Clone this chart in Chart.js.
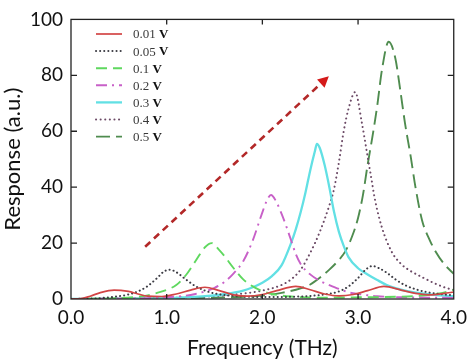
<!DOCTYPE html>
<html>
<head>
<meta charset="utf-8">
<script src="https://cdn.jsdelivr.net/npm/chart.js@4/dist/chart.umd.min.js"></script>
<style>
html,body{margin:0;padding:0;background:#fff;}
#wrap{width:474px;height:361px;position:relative;}
</style>
</head>
<body>
<div id="wrap"><canvas id="c"></canvas></div>
<script>
// ---- data (frequency in THz, response in a.u.) ----
const seriesLabels = ["0.01 V","0.05 V","0.1 V","0.2 V","0.3 V","0.4 V","0.5 V"];
const xTickLabels = ["0.0","1.0","2.0","3.0","4.0"];
const yTickLabels = ["0","20","40","60","80","100"];

const f001 = [0,0.1,0.2,0.3,0.45,0.6,0.7,0.8,0.95,1.1,1.25,1.4,1.55,1.7,1.85,2.0,2.15,2.35,2.5,2.65,2.8,2.95,3.1,3.27,3.45,3.6,3.75,3.9,4.0];
const r001 = [0,0.1,1.0,2.2,3.2,2.7,1.8,1.0,0.9,1.8,3.2,4.2,3.0,1.5,1.0,1.6,3.0,4.5,3.3,1.8,1.1,1.6,3.0,4.5,3.2,2.0,1.5,2.0,2.5];

const f005 = [0,0.3,0.5,0.6,0.7,0.8,0.9,0.97,1.03,1.1,1.2,1.3,1.4,1.5,1.7,2.0,2.3,2.5,2.7,2.8,2.9,3.0,3.08,3.15,3.22,3.3,3.4,3.5,3.6,3.7,3.8,4.0];
const r005 = [0,0.3,1.0,1.6,2.7,4.6,7.5,9.8,10.5,9.6,7.0,4.6,3.0,2.0,1.1,0.7,0.8,1.1,1.9,2.7,4.5,7.5,10.5,11.8,11.0,9.4,6.8,4.8,3.5,2.6,2.0,1.3];

const f01 = [0,0.5,0.7,0.8,0.9,1.0,1.1,1.2,1.3,1.4,1.47,1.55,1.6,1.7,1.8,1.9,2.0,2.1,2.3,2.6,3.0,3.4,3.7,3.85,4.0];
const r01 = [0,0.3,0.8,1.3,2.2,3.3,5.0,8.5,13.5,18.5,20.0,17.5,15.5,11.0,7.0,4.5,2.8,1.8,0.9,0.5,0.6,0.8,1.3,2.0,3.2];

const f02 = [0,0.8,1.0,1.2,1.3,1.4,1.5,1.6,1.7,1.8,1.9,2.0,2.05,2.09,2.15,2.2,2.25,2.3,2.35,2.4,2.5,2.6,2.7,2.8,2.9,3.0,3.2,3.5,4.0];
const r02 = [0,0.3,0.6,1.2,1.8,2.7,4.0,6.0,9.2,13.5,21.0,31.0,35.5,37.2,34.5,30.5,26.0,21.0,16.0,12.5,8.8,6.5,5.0,3.6,2.4,1.8,1.0,0.6,0.4];

const f03 = [0,1.0,1.2,1.4,1.6,1.8,1.9,2.0,2.1,2.2,2.3,2.35,2.4,2.45,2.5,2.55,2.57,2.6,2.65,2.7,2.75,2.8,2.85,2.9,3.0,3.1,3.2,3.3,3.4,3.5,3.6,3.7,3.8,3.9,4.0];
const r03 = [0,0.3,0.6,1.0,1.7,3.0,4.2,5.8,8.2,12.0,20.0,25.0,31.0,38.0,46.0,53.0,55.5,54.0,48.0,40.0,31.0,24.0,19.0,15.0,11.0,8.8,6.8,5.0,3.8,2.9,2.3,1.9,1.5,1.2,1.0];

const f04 = [0,1.0,1.5,1.7,1.9,2.0,2.1,2.2,2.3,2.4,2.5,2.6,2.7,2.75,2.8,2.85,2.9,2.97,3.04,3.09,3.13,3.18,3.25,3.35,3.45,3.55,3.67,3.8,3.9,4.0];
const r04 = [0,0.4,1.0,1.6,2.4,3.0,3.8,5.0,7.0,10.5,16.5,24.0,33.5,39.5,49.0,60.0,68.0,74.0,63.0,53.0,45.0,35.0,25.5,17.0,12.5,10.0,7.8,5.6,4.2,3.2];

const f05 = [0,1.5,2.0,2.2,2.4,2.5,2.6,2.7,2.8,2.87,2.95,3.0,3.05,3.1,3.15,3.2,3.25,3.32,3.39,3.44,3.49,3.55,3.6,3.67,3.75,3.81,3.9,4.0];
const r05 = [0,0.5,1.2,2.2,3.8,5.2,7.6,10.5,14.0,17.2,23.5,29.0,37.0,48.0,58.0,69.0,82.0,92.0,86.0,75.0,63.0,51.0,40.0,28.0,21.0,17.0,12.5,9.0];

// arrow (data coordinates)
const arrowFrom = [0.775, 18.7];
const arrowTo = [2.695, 79.7];

const pts = (f, r) => f.map((x, i) => ({x: x, y: r[i]}));

const styles = [
  {color:'#d24545', dash:[], width:1.7, cap:'butt'},
  {color:'#3c3c44', dash:[0.1,4], width:2, cap:'round'},
  {color:'#5fd85f', dash:[11,6], width:1.9, cap:'butt'},
  {color:'#c860c8', dash:[11,5,2,5], width:1.9, cap:'butt'},
  {color:'#62e0e4', dash:[], width:2.3, cap:'butt'},
  {color:'#6c4a66', dash:[0.1,4.5], width:2, cap:'round'},
  {color:'#4f8c4f', dash:[14,6], width:1.9, cap:'butt'}
];
const fs = [f001,f005,f01,f02,f03,f04,f05];
const rs = [r001,r005,r01,r02,r03,r04,r05];

const datasets = seriesLabels.map((lab, i) => ({
  label: lab,
  data: pts(fs[i], rs[i]),
  borderColor: styles[i].color,
  borderDash: styles[i].dash,
  borderWidth: styles[i].width,
  borderCapStyle: styles[i].cap,
  pointRadius: 0,
  fill: false,
  cubicInterpolationMode: 'monotone'
}));

const frame = {
  id: 'frame',
  afterDatasetsDraw(chart) {
    const {ctx, chartArea: a, scales: {x, y}} = chart;
    ctx.save();
    // arrow
    const x0 = x.getPixelForValue(arrowFrom[0]), y0 = y.getPixelForValue(arrowFrom[1]);
    const x1 = x.getPixelForValue(arrowTo[0]), y1 = y.getPixelForValue(arrowTo[1]);
    const ang = Math.atan2(y1 - y0, x1 - x0);
    const hl = 11, hw = 5.5;
    const bx = x1 - hl * Math.cos(ang), by = y1 - hl * Math.sin(ang);
    ctx.strokeStyle = '#b32828';
    ctx.lineWidth = 2.6;
    ctx.setLineDash([7, 5]);
    ctx.beginPath(); ctx.moveTo(x0, y0); ctx.lineTo(bx, by); ctx.stroke();
    ctx.setLineDash([]);
    ctx.fillStyle = '#d41a1a';
    ctx.beginPath();
    ctx.moveTo(x1, y1);
    ctx.lineTo(bx + hw * Math.sin(ang), by - hw * Math.cos(ang));
    ctx.lineTo(bx - hw * Math.sin(ang), by + hw * Math.cos(ang));
    ctx.closePath(); ctx.fill();

    // box
    ctx.strokeStyle = '#222';
    ctx.lineWidth = 1.3;
    ctx.strokeRect(a.left, a.top, a.right - a.left, a.bottom - a.top);
    // inner ticks
    ctx.beginPath();
    [1,2,3].forEach(v => {
      const px = x.getPixelForValue(v);
      ctx.moveTo(px, a.top); ctx.lineTo(px, a.top + 5);
      ctx.moveTo(px, a.bottom); ctx.lineTo(px, a.bottom - 5);
    });
    [20,40,60,80].forEach(v => {
      const py = y.getPixelForValue(v);
      ctx.moveTo(a.left, py); ctx.lineTo(a.left + 6, py);
      ctx.moveTo(a.right, py); ctx.lineTo(a.right - 6, py);
    });
    ctx.stroke();

    // legend
    const lx0 = 96, lx1 = 122, tx = 133, ly0 = 34, dy = 17.1;
    chart.data.datasets.forEach((ds, i) => {
      const yy = ly0 + i * dy;
      ctx.strokeStyle = ds.borderColor;
      ctx.lineWidth = ds.borderWidth;
      ctx.lineCap = ds.borderCapStyle;
      ctx.setLineDash(ds.borderDash);
      ctx.beginPath(); ctx.moveTo(lx0, yy); ctx.lineTo(lx1, yy); ctx.stroke();
      ctx.setLineDash([]);
      ctx.lineCap = 'butt';
      const parts = ds.label.split(' ');
      ctx.fillStyle = '#3a3a3a';
      ctx.textBaseline = 'middle';
      ctx.textAlign = 'left';
      ctx.font = '13px "Liberation Serif"';
      ctx.fillText(parts[0] + ' ', tx, yy + 1);
      const w = ctx.measureText(parts[0] + ' ').width;
      ctx.fillStyle = '#111';
      ctx.font = 'bold 13px "Liberation Serif"';
      ctx.fillText(parts[1], tx + w, yy + 1);
    });
    ctx.restore();
  }
};

new Chart(document.getElementById('c'), {
  type: 'line',
  data: {datasets: datasets},
  options: {
    responsive: true,
    maintainAspectRatio: false,
    animation: false,
    layout: {padding: {top: 11, right: 18, left: 0, bottom: 0}},
    plugins: {legend: {display: false}, tooltip: {enabled: false}},
    scales: {
      x: {
        type: 'linear', min: 0, max: 4,
        grid: {display: false, drawTicks: false},
        border: {display: false},
        ticks: {
          stepSize: 1, padding: 7, color: '#111',
          font: {family: 'Lato', size: 19},
          callback: (v) => xTickLabels[Math.round(v)]
        },
        title: {display: true, text: 'Frequency (THz)', color: '#111',
          font: {family: 'Lato', size: 21}, padding: {top: 0, bottom: 0}},
        afterFit: (s) => { s.height = 62; }
      },
      y: {
        min: 0, max: 100,
        grid: {display: false, drawTicks: false},
        border: {display: false},
        ticks: {
          stepSize: 20, padding: 8, color: '#111',
          font: {family: 'Lato', size: 19},
          callback: (v) => yTickLabels[Math.round(v / 20)]
        },
        title: {display: true, text: 'Response (a.u.)', color: '#111',
          font: {family: 'Lato', size: 22}, padding: {top: 0, bottom: 2}},
        afterFit: (s) => { s.width = 71; }
      }
    }
  },
  plugins: [frame]
});
</script>
</body>
</html>
